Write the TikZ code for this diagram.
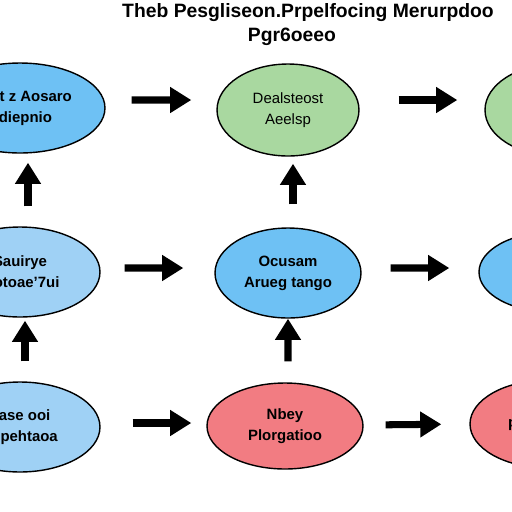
\documentclass[tikz,border=0pt]{standalone}
\usepackage{fontspec}
\setmainfont{Liberation Sans}
\usetikzlibrary{arrows.meta,shapes.geometric}
\definecolor{ovblue}{HTML}{6EC1F4}
\definecolor{ovpale}{HTML}{9FD1F5}
\definecolor{ovgreen}{HTML}{A9D8A0}
\definecolor{ovred}{HTML}{F27C82}
\tikzset{oval/.style={ellipse,draw=black,line width=0.8pt,inner sep=0pt,align=center,
    font=\bfseries\fontsize{8.5}{12}\selectfont},
  arr/.style={line width=4pt,-{Triangle[length=12pt,width=14pt]}}}

\begin{document}
\begin{tikzpicture}[x=0.02cm,y=-0.02cm]
\useasboundingbox (0,0) rectangle (512,512);
\fill[white] (0,0) rectangle (512,512);
\clip (0,0) rectangle (512,512);
% --- title
\node[font=\bfseries\fontsize{11}{12}\selectfont] (ttl) at (308,13) {Theb Pesgliseon.Prpelfocing Merurpdoo};
\node[font=\bfseries\fontsize{11}{12}\selectfont] (sub) at (292,37) {Pgr6oeeo};
% --- top row
\node[oval,fill=ovblue,minimum width=3.4cm,minimum height=1.8cm] (tl) at (20,108) {Aevit z Aosaro\\Adiepnio};
\node[oval,fill=ovgreen,minimum width=2.84cm,minimum height=1.84cm,font=\fontsize{8.5}{12}\selectfont] (tm) at (288,110) {Dealsteost\\Aeelsp};
\node[oval,fill=ovgreen,minimum width=2.88cm,minimum height=1.84cm] (tr) at (557,110) {};
% --- middle row
\node[oval,fill=ovpale,minimum width=3.2cm,minimum height=1.8cm] (ml) at (20,272) {Sauirye\\L otoae'7ui};
\node[oval,fill=ovblue,minimum width=2.92cm,minimum height=1.8cm] (mm) at (288,273) {Ocusam\\Arueg tango};
\node[oval,fill=ovblue,minimum width=2.92cm,minimum height=1.6cm] (mr) at (552,272) {};
% --- bottom row
\node[oval,fill=ovpale,minimum width=3.2cm,minimum height=1.8cm] (bl) at (20,427) {Fase ooi\\Espehtaoa};
\node[oval,fill=ovred,minimum width=3.12cm,minimum height=1.72cm] (bm) at (285,426) {Nbey\\Plorgatioo};
\node[oval,fill=ovred,minimum width=3.12cm,minimum height=1.76cm] (br) at (548,424) {prorotatioo};
% --- horizontal arrows
\draw[arr,shorten <=0.52cm,shorten >=0.5cm] ([yshift=0.16cm]tl.east) -- ([yshift=0.2cm]tm.west);
\draw[arr,shorten <=0.78cm,shorten >=0.54cm] ([yshift=0.2cm]tm.east) -- ([yshift=0.2cm]tr.west);
\draw[arr,shorten <=0.48cm,shorten >=0.62cm] ([yshift=0.08cm]ml.east) -- ([yshift=0.1cm]mm.west);
\draw[arr,shorten <=0.58cm,shorten >=0.58cm] ([yshift=0.1cm]mm.east) -- ([yshift=0.08cm]mr.west);
\draw[arr,shorten <=0.64cm,shorten >=0.3cm] ([yshift=0.08cm]bl.east) -- ([yshift=0.06cm]bm.west);
\draw[arr,shorten <=0.44cm,shorten >=0.56cm] ([yshift=0.02cm]bm.east) -- (br.west);
% --- vertical arrows
\draw[arr,shorten <=0.4cm,shorten >=0.18cm] ([xshift=0.16cm]ml.north) -- ([xshift=0.16cm]tl.south);
\draw[arr,shorten <=0.46cm,shorten >=0.14cm] ([xshift=0.1cm]mm.north) -- ([xshift=0.1cm]tm.south);
\draw[arr,shorten <=0.4cm,shorten >=0.06cm] ([xshift=0.1cm]bl.north) -- ([xshift=0.1cm]ml.south);
\draw[arr,shorten <=0.42cm,shorten >=0cm] ([xshift=0.06cm]bm.north) -- (mm.south);
\end{tikzpicture}
\end{document}
